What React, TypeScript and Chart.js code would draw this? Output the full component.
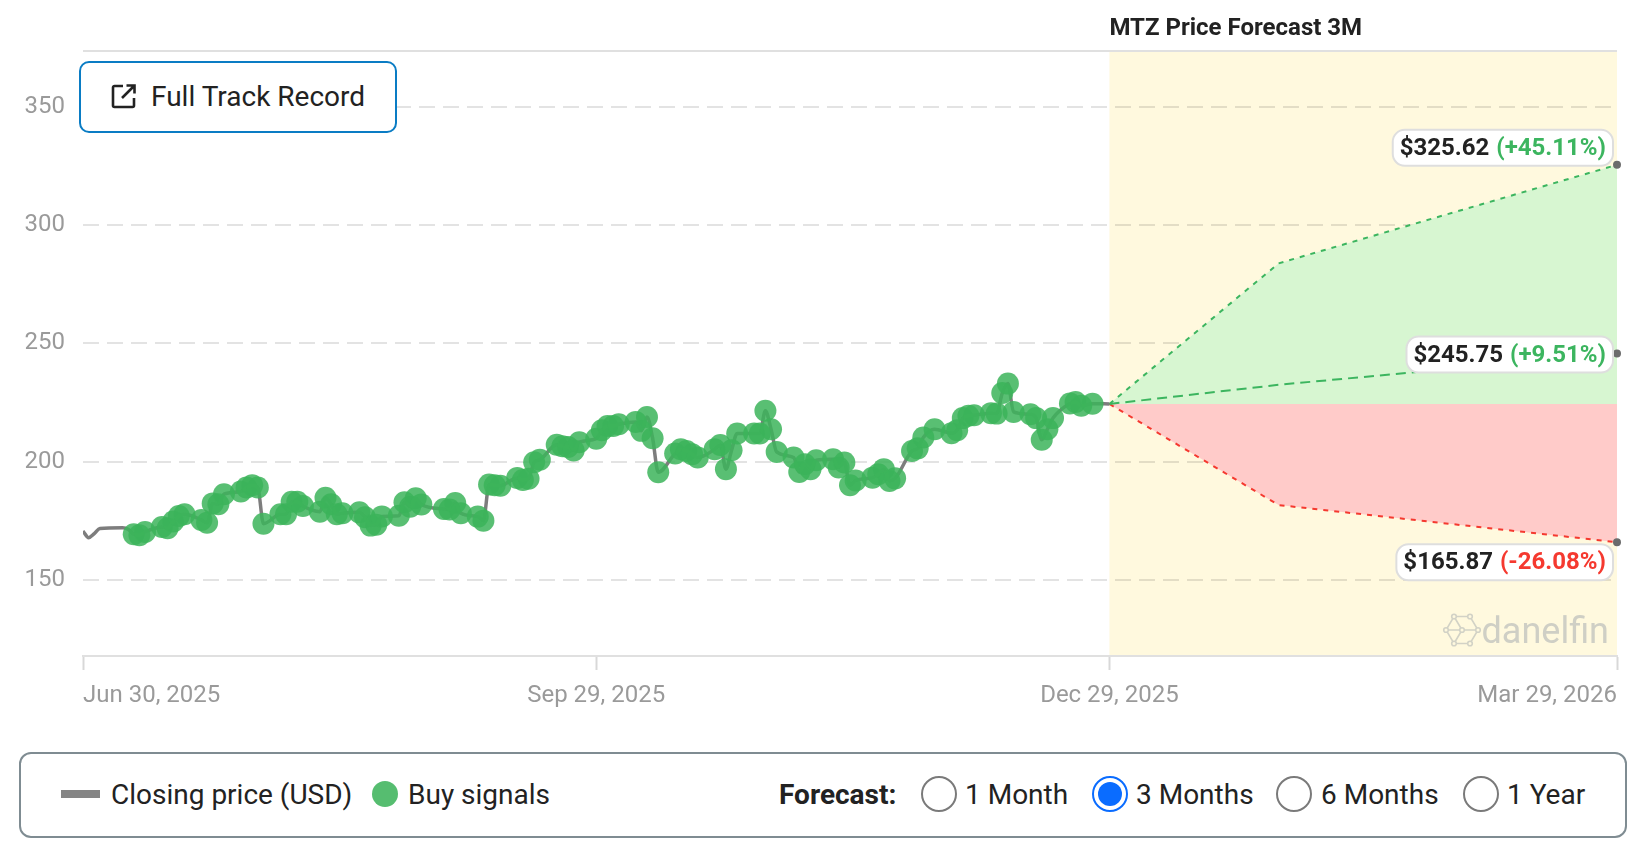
import React, { useEffect, useRef } from "react";
import { Chart, registerables } from "chart.js";

Chart.register(...registerables);

const FONT = "Roboto, sans-serif";

const tradingDays = [
  0, 1, 2, 3, 7, 8, 9, 10, 11, 14, 15, 16, 17, 18, 21, 22, 23, 24, 25, 28, 29, 30, 31, 32,
  35, 36, 37, 38, 39, 42, 43, 44, 45, 46, 49, 50, 51, 52, 53, 56, 57, 58, 59, 60,
  64, 65, 66, 67, 70, 71, 72, 73, 74, 77, 78, 79, 80, 81, 84, 85, 86, 87, 88,
  91, 92, 93, 94, 95, 98, 99, 100, 101, 102, 105, 106, 107, 108, 109, 112, 113, 114, 115, 116,
  119, 120, 121, 122, 123, 126, 127, 128, 129, 130, 133, 134, 135, 136, 137,
  140, 141, 142, 143, 144, 147, 148, 149, 151, 154, 155, 156, 157, 158,
  161, 162, 163, 164, 165, 168, 169, 170, 171, 172, 175, 176, 177, 179, 182,
];
const closes = [
  170.6, 167.8, 169.5, 171.7, 172.0, 171.4, 169.2, 168.8, 170.2, 172.3, 171.8, 174.6, 177.0, 177.7,
  175.3, 174.1, 182.3, 181.9, 186.2, 187.3, 189.0, 190.0, 189.0, 173.7,
  177.7, 177.7, 183.0, 183.0, 181.2, 178.8, 184.7, 181.9, 177.7, 178.1,
  178.5, 176.4, 172.9, 173.3, 176.8, 177.1, 182.8, 180.9, 184.5, 181.8,
  179.9, 179.7, 182.5, 178.1, 176.7, 175.0, 190.3, 190.0, 189.8,
  193.1, 192.2, 192.7, 199.7, 200.8, 207.1, 206.5, 206.2, 204.7, 208.2,
  209.7, 213.3, 215.1, 215.1, 215.8, 216.8, 213.0, 218.9, 209.9, 195.5,
  203.4, 205.2, 204.5, 203.1, 201.7, 205.2, 207.0, 196.8, 204.8, 211.9,
  211.9, 211.9, 221.5, 213.7, 204.1, 201.7, 195.6, 198.9, 196.8, 200.6,
  201.0, 197.5, 199.6, 190.0, 192.0, 193.2, 194.6, 196.8, 191.8, 192.9,
  204.5, 205.6, 210.2, 213.7, 212.0, 213.3, 218.4, 219.4, 219.6,
  220.5, 220.3, 229.0, 233.0, 221.0, 220.0, 218.4, 209.2, 213.7, 218.4,
  224.6, 225.2, 223.6, 224.5, 224.38,
];
const noSignalDays = [0, 1, 2, 3, 7, 8, 182];

const forecastDays = [182, 212, 272];
const forecastHigh = [224.38, 283.9, 325.62];
const forecastMid = [224.38, 232.5, 245.75];
const forecastLow = [224.38, 181.6, 165.87];
const forecastBase = 224.38;

const xTickDays = [0, 91, 182, 272];
const xTickLabels = ["Jun 30, 2025", "Sep 29, 2025", "Dec 29, 2025", "Mar 29, 2026"];
const yTicks = [150, 200, 250, 300, 350];
const forecastTitle = "MTZ Price Forecast 3M";
const forecastLabels = [
  { price: "$325.62", change: "(+45.11%)", value: 325.62, color: "#3cb55f", shift: -17 },
  { price: "$245.75", change: "(+9.51%)", value: 245.75, color: "#3cb55f", shift: 1 },
  { price: "$165.87", change: "(-26.08%)", value: 165.87, color: "#f5392f", shift: 20 },
];
const radioOptions = [
  { label: "1 Month", cx: 939, tx: 965, on: false },
  { label: "3 Months", cx: 1110, tx: 1136, on: true },
  { label: "6 Months", cx: 1294, tx: 1321, on: false },
  { label: "1 Year", cx: 1481, tx: 1507, on: false },
];

const pairs = (xs: number[], ys: number[]) => xs.map((x, i) => ({ x, y: ys[i] }));

const chromePlugin = {
  id: "chrome",
  beforeDraw(chart: any) {
    const { ctx, chartArea: a, scales } = chart;
    const xb = scales.x.getPixelForValue(182);
    ctx.save();
    ctx.fillStyle = "#fff9de";
    ctx.fillRect(xb, a.top, a.right - xb, a.bottom - a.top);
    ctx.strokeStyle = "#e0e0e0";
    ctx.lineWidth = 2;
    ctx.beginPath();
    ctx.moveTo(a.left, a.top);
    ctx.lineTo(a.right, a.top);
    ctx.stroke();
    ctx.fillStyle = "#222222";
    ctx.font = `700 24px ${FONT}`;
    ctx.textAlign = "left";
    ctx.textBaseline = "middle";
    ctx.fillText(forecastTitle, xb, 29);
    ctx.restore();
  },
  afterDatasetsDraw(chart: any) {
    const { ctx, chartArea: a, scales } = chart;
    ctx.save();
    // watermark
    const cx = a.right - 155;
    const cy = a.bottom - 26;
    const r = 16;
    const hex: [number, number][] = [
      [-8, -13.5], [8, -13.5], [16, 0], [8, 13.5], [-8, 13.5], [-16, 0],
    ];
    ctx.strokeStyle = "#d2d2c6";
    ctx.fillStyle = "#fff9de";
    ctx.lineWidth = 1.6;
    ctx.beginPath();
    hex.forEach(([dx, dy], i) => (i ? ctx.lineTo(cx + dx, cy + dy) : ctx.moveTo(cx + dx, cy + dy)));
    ctx.closePath();
    [0, 2, 4].forEach((i) => {
      ctx.moveTo(cx, cy);
      ctx.lineTo(cx + hex[i][0], cy + hex[i][1]);
    });
    ctx.moveTo(cx - r, cy);
    ctx.lineTo(cx, cy);
    ctx.moveTo(cx + r, cy);
    ctx.lineTo(cx, cy);
    ctx.stroke();
    [...hex, [0, 0] as [number, number]].forEach(([dx, dy]) => {
      ctx.beginPath();
      ctx.arc(cx + dx, cy + dy, 2.3, 0, Math.PI * 2);
      ctx.fill();
      ctx.stroke();
    });
    ctx.fillStyle = "#cfcfc5";
    ctx.font = `400 36px ${FONT}`;
    ctx.textAlign = "right";
    ctx.textBaseline = "middle";
    ctx.fillText("danelfin", a.right - 8, cy + 4);

    // forecast price labels
    ctx.font = `700 24px ${FONT}`;
    forecastLabels.forEach((l) => {
      const y = scales.y.getPixelForValue(l.value) + l.shift;
      const w1 = ctx.measureText(l.price).width;
      const w2 = ctx.measureText(l.change).width;
      const gap = 7;
      const right = a.right - 4;
      const w = w1 + w2 + gap + 14;
      const h = 36;
      ctx.beginPath();
      ctx.roundRect(right - w, y - h / 2, w, h, 12);
      ctx.fillStyle = "#ffffff";
      ctx.fill();
      ctx.strokeStyle = "#dedede";
      ctx.lineWidth = 2;
      ctx.stroke();
      ctx.textAlign = "left";
      ctx.textBaseline = "middle";
      ctx.fillStyle = "#222222";
      ctx.fillText(l.price, right - w + 7, y + 1);
      ctx.fillStyle = l.color;
      ctx.fillText(l.change, right - w + 7 + w1 + gap, y + 1);
    });
    ctx.restore();
  },
};

const textStyle: React.CSSProperties = {
  position: "absolute",
  top: 795,
  transform: "translateY(-50%)",
  fontFamily: FONT,
  fontSize: 28,
  color: "#222222",
  whiteSpace: "nowrap",
  lineHeight: 1,
};

export default function App() {
  const ref = useRef<HTMLCanvasElement>(null);

  useEffect(() => {
    document.body.style.margin = "0";
    const endDot = (c: string) => ({
      pointRadius: [0, 0, 4],
      pointBackgroundColor: c,
      pointBorderWidth: 0,
    });
    const chart = new Chart(ref.current as HTMLCanvasElement, {
      type: "line",
      data: {
        datasets: [
          {
            label: "Buy signals",
            data: pairs(tradingDays, closes).filter((p) => !noSignalDays.includes(p.x)),
            showLine: false,
            pointRadius: 11,
            pointBackgroundColor: "rgba(60,180,90,0.85)",
            pointBorderWidth: 0,
            order: 0,
          },
          {
            label: "Closing price (USD)",
            data: pairs(tradingDays, closes),
            borderColor: "#7d7d7d",
            borderWidth: 3.5,
            pointRadius: 0,
            cubicInterpolationMode: "monotone",
            order: 1,
          },
          {
            label: "Forecast mid",
            data: pairs(forecastDays, forecastMid),
            borderColor: "#3cb55f",
            borderWidth: 2,
            borderDash: [10, 6],
            clip: false,
            ...endDot("#6b6b6b"),
            order: 2,
          },
          {
            label: "Forecast high",
            data: pairs(forecastDays, forecastHigh),
            borderColor: "#3cb55f",
            borderWidth: 2,
            borderDash: [5, 6],
            backgroundColor: "#d7f6d1",
            fill: { value: forecastBase },
            clip: false,
            ...endDot("#6b6b6b"),
            order: 3,
          },
          {
            label: "Forecast low",
            data: pairs(forecastDays, forecastLow),
            borderColor: "#f5392f",
            borderWidth: 2,
            borderDash: [5, 6],
            backgroundColor: "#ffcbc9",
            fill: { value: forecastBase },
            clip: false,
            ...endDot("#6b6b6b"),
            order: 4,
          },
        ],
      } as any,
      options: {
        animation: false,
        responsive: false,
        maintainAspectRatio: false,
        layout: { padding: { top: 51, right: 25, left: 0, bottom: 0 } },
        plugins: { legend: { display: false }, tooltip: { enabled: false } },
        scales: {
          x: {
            type: "linear",
            min: 0,
            max: 272,
            afterBuildTicks: (s: any) => {
              s.ticks = xTickDays.map((value) => ({ value }));
            },
            afterFit: (s: any) => {
              s.height = 64;
            },
            border: { display: true, color: "#e0e0e0", width: 2 },
            grid: {
              drawOnChartArea: false,
              drawTicks: true,
              tickLength: 14,
              tickColor: "#d8d8d8",
              tickWidth: 2,
            },
            ticks: {
              autoSkip: false,
              maxRotation: 0,
              align: "inner",
              padding: 12,
              color: "#9a9a9a",
              font: { family: FONT, size: 24 },
              callback: (v: any) => xTickLabels[xTickDays.indexOf(Number(v))],
            },
          },
          y: {
            type: "linear",
            min: 117.7,
            max: 373.8,
            afterBuildTicks: (s: any) => {
              s.ticks = yTicks.map((value) => ({ value }));
            },
            afterFit: (s: any) => {
              s.width = 83;
            },
            border: { display: false, dash: [16, 8] },
            grid: { color: "rgba(0,0,0,0.11)", lineWidth: 2, drawTicks: false },
            ticks: {
              padding: 18,
              color: "#9a9a9a",
              font: { family: FONT, size: 24 },
            },
          },
        },
      } as any,
      plugins: [chromePlugin],
    });
    return () => chart.destroy();
  }, []);

  return (
    <div style={{ position: "absolute", left: 0, top: 0, width: 1642, height: 854, background: "#fff", overflow: "hidden" }}>
      <canvas ref={ref} width={1642} height={720} style={{ position: "absolute", left: 0, top: 0, display: "block" }} />

      <div
        style={{
          position: "absolute",
          left: 79,
          top: 61,
          width: 318,
          height: 72,
          boxSizing: "border-box",
          border: "2px solid #0a7cc4",
          borderRadius: 10,
          background: "#fff",
          fontFamily: FONT,
          fontSize: 28,
          color: "#222",
        }}
      >
        <svg width="26" height="26" viewBox="0 0 26 26" style={{ position: "absolute", left: 30, top: 20 }}>
          <path d="M12 3H3.5a1.5 1.5 0 0 0-1.5 1.5v18a1.5 1.5 0 0 0 1.5 1.5h18a1.5 1.5 0 0 0 1.5-1.5V15" fill="none" stroke="#222" strokeWidth="2.6" />
          <path d="M11 15L23 3M15.5 2.5H23.5V10.5" fill="none" stroke="#222" strokeWidth="2.6" />
        </svg>
        <span style={{ position: "absolute", left: 70, top: 34, transform: "translateY(-50%)", lineHeight: 1, whiteSpace: "nowrap" }}>
          Full Track Record
        </span>
      </div>

      <div
        style={{
          position: "absolute",
          left: 19,
          top: 752,
          width: 1608,
          height: 86,
          boxSizing: "border-box",
          border: "2px solid #7f8c92",
          borderRadius: 12,
        }}
      />
      <div style={{ position: "absolute", left: 61, top: 790, width: 39, height: 8, background: "#858585" }} />
      <span style={{ ...textStyle, left: 111 }}>Closing price (USD)</span>
      <div style={{ position: "absolute", left: 372, top: 781, width: 26, height: 26, borderRadius: "50%", background: "#56bd70" }} />
      <span style={{ ...textStyle, left: 408 }}>Buy signals</span>
      <span style={{ ...textStyle, left: 779, fontWeight: 700 }}>Forecast:</span>
      {radioOptions.map((o) => (
        <React.Fragment key={o.label}>
          <div
            style={{
              position: "absolute",
              left: o.cx - 18,
              top: 776,
              width: 36,
              height: 36,
              boxSizing: "border-box",
              borderRadius: "50%",
              border: `2px solid ${o.on ? "#0a6cff" : "#7a7a7a"}`,
              background: "#fff",
            }}
          >
            {o.on && (
              <div style={{ position: "absolute", left: 4, top: 4, width: 24, height: 24, borderRadius: "50%", background: "#0a6cff" }} />
            )}
          </div>
          <span style={{ ...textStyle, left: o.tx }}>{o.label}</span>
        </React.Fragment>
      ))}
    </div>
  );
}
